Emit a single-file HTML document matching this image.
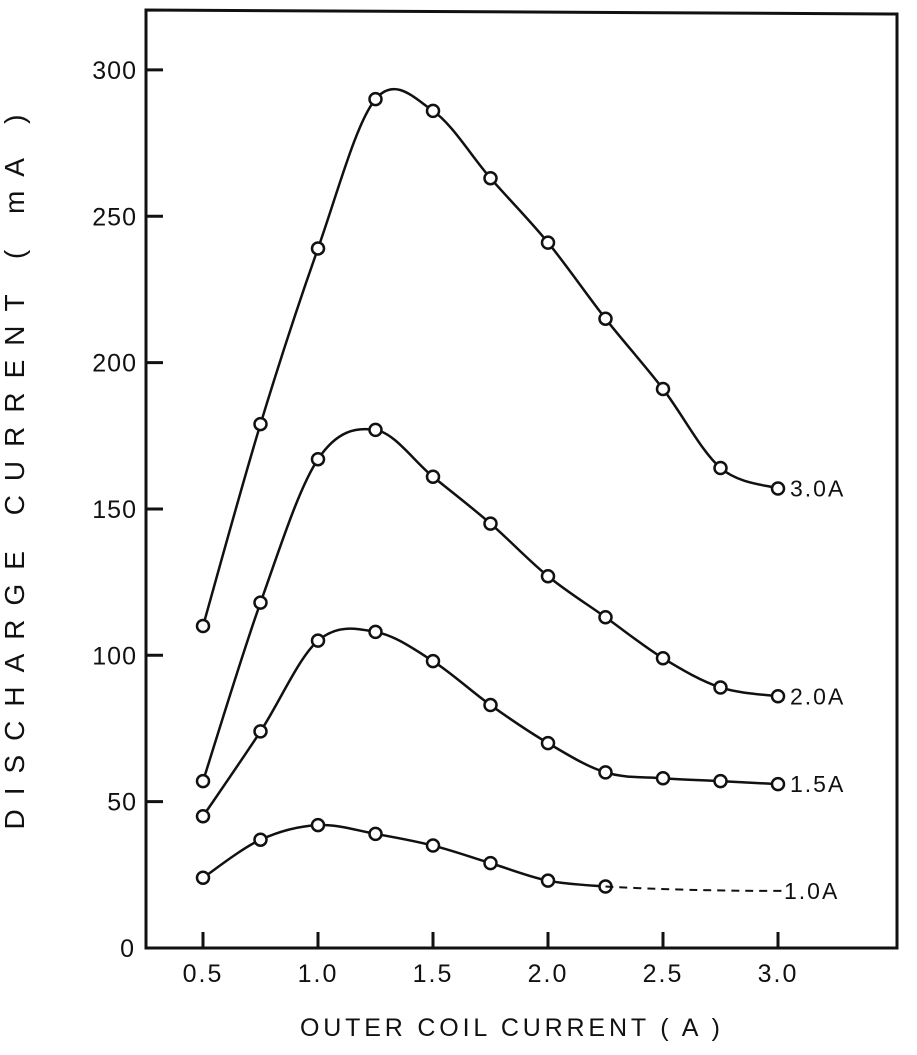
<!DOCTYPE html>
<html><head><meta charset="utf-8"><style>
body{margin:0;background:#fff}
svg text{font-family:"Liberation Sans",sans-serif;fill:#111}
</style></head><body>
<svg width="917" height="1050" viewBox="0 0 917 1050">
<g id="frame" stroke="#111" stroke-width="3" fill="none">
<path d="M146 948 L146 10 L897 14 L897 948 Z"/>
</g>
<g id="axes"></g>
<g id="series"></g>
<text x="24" y="472" transform="rotate(-90 24 472)" text-anchor="middle" font-size="28" textLength="715" lengthAdjust="spacing">DISCHARGE CURRENT ( mA )</text>
<text x="510" y="1036" text-anchor="middle" font-size="25" textLength="420" lengthAdjust="spacing">OUTER COIL CURRENT ( A )</text>
</svg>
<script>
const xTicks=[0.5,1.0,1.5,2.0,2.5,3.0];
const yTicks=[0,50,100,150,200,250,300];
const xs=[0.5,0.75,1.0,1.25,1.5,1.75,2.0,2.25,2.5,2.75,3.0];
const s30=[110,179,239,290,286,263,241,215,191,164,157];
const s20=[57,118,167,177,161,145,127,113,99,89,86];
const s15=[45,74,105,108,98,83,70,60,58,57,56];
const s10=[24,37,42,39,35,29,23,21];
const s10tail=[21,19.5];
const labels=["3.0A","2.0A","1.5A","1.0A"];
const NS="http://www.w3.org/2000/svg";
const X=v=>203+(v-0.5)*230;
const Y=v=>948-v*2.927;
function mk(t,a,p){const e=document.createElementNS(NS,t);for(const k in a)e.setAttribute(k,a[k]);p.appendChild(e);return e;}
const ax=document.getElementById('axes');
xTicks.forEach(t=>{
 const l=mk('line',{x1:X(t),x2:X(t),y1:948,y2:932,stroke:'#111','stroke-width':3},ax);
 
 
 const tx=mk('text',{x:X(t),y:982,'text-anchor':'middle','font-size':25,'letter-spacing':2},ax);tx.textContent=t.toFixed(1);
 
 
});
yTicks.forEach(t=>{
 if(t>0){const l=mk('line',{x1:146,x2:163,y1:Y(t),y2:Y(t),stroke:'#111','stroke-width':3},ax);
 
 }
 const tx=mk('text',{x:t==0?135:137,y:Y(t)+9,'text-anchor':'end','font-size':25,'letter-spacing':1},ax);tx.textContent=t;
 
 
});
function smooth(pts){
 let d='M'+pts[0][0]+' '+pts[0][1];
 for(let i=0;i<pts.length-1;i++){
  const p0=pts[Math.max(0,i-1)],p1=pts[i],p2=pts[i+1],p3=pts[Math.min(pts.length-1,i+2)];
  const c1=[p1[0]+(p2[0]-p0[0])/6,p1[1]+(p2[1]-p0[1])/6];
  const c2=[p2[0]-(p3[0]-p1[0])/6,p2[1]-(p3[1]-p1[1])/6];
  d+=` C${c1[0]} ${c1[1]} ${c2[0]} ${c2[1]} ${p2[0]} ${p2[1]}`;
 }
 return d;
}
const sg=document.getElementById('series');
const all=[[s30,'series-3a'],[s20,'series-2a'],[s15,'series-1-5a'],[s10,'series-1a']];
all.forEach(([s,n],k)=>{
 const pts=s.map((v,i)=>[X(xs[i]),Y(v)]);
 const p=mk('path',{d:smooth(pts),fill:'none',stroke:'#111','stroke-width':2.5},sg);
 
 
 pts.forEach(q=>{const c=mk('circle',{cx:q[0],cy:q[1],r:6,fill:'#fff',stroke:'#111','stroke-width':2.5},sg);
  
  });
 const last=k==3?[X(3.0)-6,Y(s10tail[1])]:pts[pts.length-1];
 const t=mk('text',{x:last[0]+12,y:last[1]+8,'font-size':23,'letter-spacing':2},sg);t.textContent=labels[k];
 
 
});
const dl=mk('path',{d:`M${X(2.25)} ${Y(s10tail[0])} Q${X(2.6)} ${Y(s10tail[1])} ${X(3.0)+4} ${Y(s10tail[1])}`,fill:'none',stroke:'#111','stroke-width':2,'stroke-dasharray':'8 6'},sg);


</script>
</body></html>
